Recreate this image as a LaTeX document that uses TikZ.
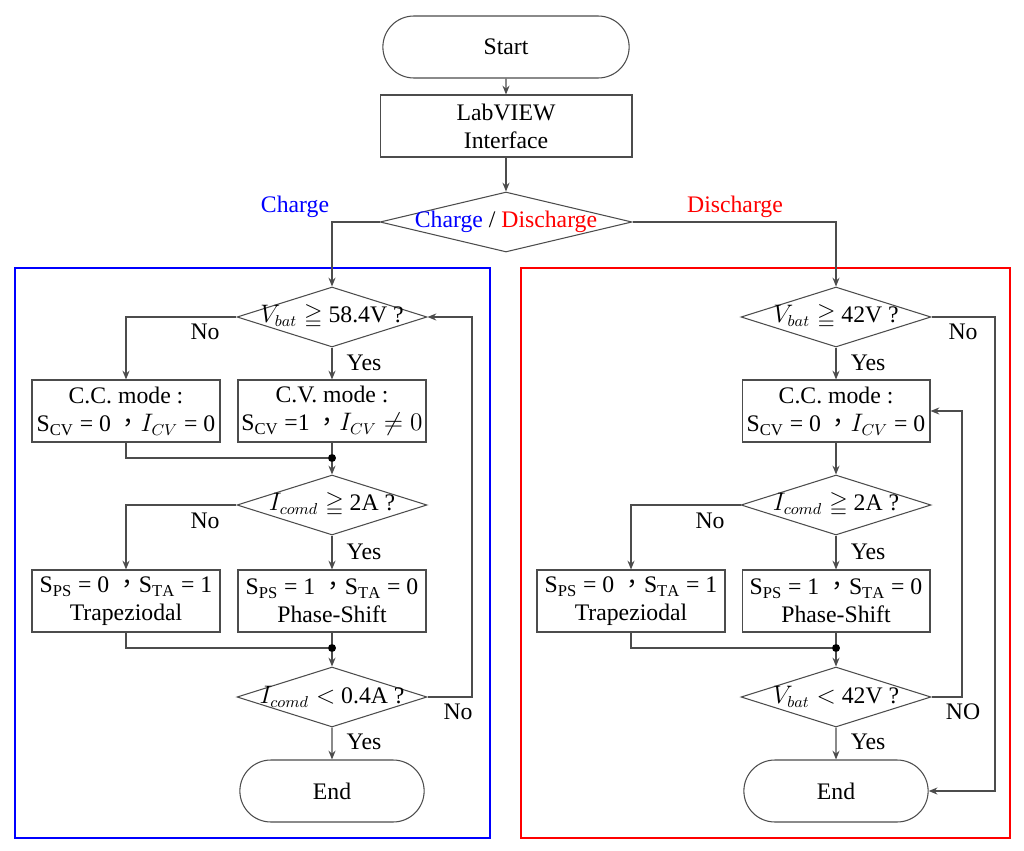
\documentclass[tikz,border=0pt]{standalone}
\usepackage{amsmath,amssymb}
\usepackage{fontspec}
\setmainfont{Liberation Serif}
\newfontfamily\cjk{Noto Sans CJK TC}
\usetikzlibrary{shapes.geometric,shapes.misc,arrows.meta}
\newcommand{\fc}{{\cjk ，}}

\begin{document}
\begin{tikzpicture}[x=0.02cm,y=-0.02cm,font=\fontsize{13.5}{16}\selectfont,
  >={Stealth[length=5pt,width=4pt]},
  line/.style={draw=black!70,line width=0.6pt},
  box/.style={rectangle,draw=black!70,line width=0.6pt,minimum width=3.76cm,minimum height=1.24cm,inner sep=1pt,align=center},
  term/.style={rounded rectangle,draw=black!70,line width=0.6pt,minimum width=3.92cm,minimum height=1.24cm},
  dia/.style={diamond,draw=black!70,line width=0.6pt,minimum width=3.8cm,minimum height=1.2cm,inner sep=0pt},
  dot/.style={circle,fill,inner sep=1.6pt}]
\useasboundingbox (0,0) rectangle (1024,851);
\draw[blue,line width=1.4pt] (15,268) rectangle (490,838);
\draw[red,line width=1.4pt] (521,268) rectangle (1010,838);
% top
\node[term,minimum width=5.16cm] (start) at (506,47) {Start};
\node[box,minimum width=5.04cm] (lab) at (506,126) {LabVIEW\\Interface};
\node[dia,minimum width=5.04cm,label={center:{\color{blue}Charge} / {\color{red}Discharge}}] (cd) at (506,222) {};
\node[blue] (lc) at (295,207) {Charge};
\node[red] (ld) at (735,207) {Discharge};
\draw[line,->] (start) -- (lab);
\draw[line,->] (lab) -- (cd);
% charge
\node[dia,label={center:$V_{bat}\geqq$ 58.4V ?}] (a1) at (332,317) {};
\node[box] (a2) at (126,411) {C.C. mode :\\S$_{\rm CV}$ = 0 \fc$I_{CV}$ = 0};
\node[box] (a3) at (332,411) {C.V. mode :\\S$_{\rm CV}$ =1 \fc$I_{CV}\neq 0$};
\node[dot] (m1) at (332,458) {};
\node[dia,label={center:$I_{comd}\geqq$ 2A ?}] (a4) at (332,505) {};
\node[box] (a5) at (126,601) {S$_{\rm PS}$ = 0 \fc S$_{\rm TA}$ = 1\\Trapeziodal};
\node[box] (a6) at (332,601) {S$_{\rm PS}$ = 1 \fc S$_{\rm TA}$ = 0\\Phase-Shift};
\node[dot] (m2) at (332,648) {};
\node[dia,label={center:$I_{comd}<$ 0.4A ?}] (a7) at (332,697) {};
\node[term] (e1) at (332,791) {End};
\draw[line,->] (cd.west) -| (a1.north);
\draw[line,->] (a1.west) -| (a2.north);
\draw[line,->] (a1) -- (a3);
\draw[line] (a2.south) |- (m1) (a3) -- (m1);
\draw[line,->] (m1) -- (a4);
\draw[line,->] (a4.west) -| (a5.north);
\draw[line,->] (a4) -- (a6);
\draw[line] (a5.south) |- (m2) (a6) -- (m2);
\draw[line,->] (m2) -- (a7);
\draw[line,->] (a7) -- (e1);
\draw[line,->] (a7.east) -- (472,697) -- (472,317) -- (a1.east);
\node (n1) at (205,332) {No};
\node (y1) at (364,363) {Yes};
\node (n2) at (205,521) {No};
\node (y2) at (364,552) {Yes};
\node (n3) at (458,712) {No};
\node (y3) at (364,742) {Yes};
% discharge
\node[dia,label={center:$V_{bat}\geqq$ 42V ?}] (b1) at (836,317) {};
\node[box] (b2) at (836,411) {C.C. mode :\\S$_{\rm CV}$ = 0 \fc$I_{CV}$ = 0};
\node[dia,label={center:$I_{comd}\geqq$ 2A ?}] (b4) at (836,505) {};
\node[box] (b5) at (631,601) {S$_{\rm PS}$ = 0 \fc S$_{\rm TA}$ = 1\\Trapeziodal};
\node[box] (b6) at (836,601) {S$_{\rm PS}$ = 1 \fc S$_{\rm TA}$ = 0\\Phase-Shift};
\node[dot] (m3) at (836,648) {};
\node[dia,label={center:$V_{bat}<$ 42V ?}] (b7) at (836,697) {};
\node[term] (e2) at (836,791) {End};
\draw[line,->] (cd.east) -| (b1.north);
\draw[line,->] (b1) -- (b2);
\draw[line,->] (b2) -- (b4);
\draw[line,->] (b4.west) -| (b5.north);
\draw[line,->] (b4) -- (b6);
\draw[line] (b5.south) |- (m3) (b6) -- (m3);
\draw[line,->] (m3) -- (b7);
\draw[line,->] (b7) -- (e2);
\draw[line,->] (b7.east) -- (962,697) -- (962,411) -- (b2.east);
\draw[line,->] (b1.east) -- (995,317) -- (995,791) -- (e2.east);
\node (n4) at (963,332) {No};
\node (y4) at (868,363) {Yes};
\node (n5) at (710,521) {No};
\node (y5) at (868,552) {Yes};
\node (n6) at (963,712) {NO};
\node (y6) at (868,742) {Yes};
\end{tikzpicture}
\end{document}
